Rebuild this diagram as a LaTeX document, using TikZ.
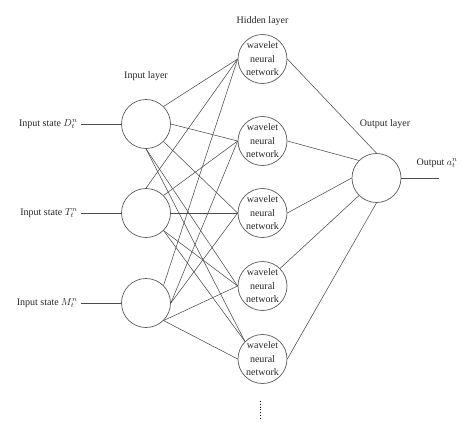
\documentclass[tikz,border=0pt]{standalone}
\usepackage{fontspec}
\setmainfont{Liberation Serif}
\usepackage{tikz}
\usetikzlibrary{positioning,calc}

\begin{document}
\begin{tikzpicture}[x=1pt,y=-1pt,
	every node/.style={text=black!85,font=\fontsize{10}{13.5}\selectfont},
	neuron/.style={circle,draw=black!65,line width=0.7pt,minimum size=49pt,inner sep=0pt},
	wire/.style={draw=black!70,line width=0.55pt}]
	\useasboundingbox (0,0) rectangle (474,434);
	
	% input layer
	\node[neuron] (in1) at (146,124) {};
	\node[neuron] (in2) at (146,213) {};
	\node[neuron] (in3) at (146,303) {};
	\node (inlay) at (146,76) {Input layer};
	
	% input states
	\node[anchor=east] (lab1) at (81,124) {Input state $D_t^n$};
	\node[anchor=east] (lab2) at (81,213) {Input state $T_t^n$};
	\node[anchor=east] (lab3) at (81,303) {Input state $M_t^n$};
	\foreach \i in {1,2,3}{
		\draw[wire] (lab\i.east) -- (in\i.west);
	}
	
	% hidden layer
	\foreach \i/\y in {1/59,2/141,3/213,4/286,5/359}{
		\node[neuron] (hid\i) at (262.5,\y) {};
		\node[align=center] (wnn\i) at (hid\i) {wavelet\\neural\\network};
	}
	\node (hidlay) at (262.5,21) {Hidden layer};
	
	% more hidden units
	\coordinate (dtop) at (260,401);
	\coordinate (dbot) at (260,418);
	\draw[dotted,line width=0.8pt] (dtop) -- (dbot);
	
	% output layer
	\node[neuron] (out) at (376.5,178) {};
	\node (outlay) at (385,124) {Output layer};
	\node[anchor=west] (outlab) at (413,163) {Output $a_t^n$};
	\coordinate (outend) at (439,178);
	\draw[wire] (out.east) -- (outend);
	
	% input to hidden
	\foreach \a/\b in {in1.north east/hid1.west, in1.east/hid2.west,
		in1.south east/hid3.west, in1.south/hid4.west, in1.south/hid5.north west,
		in2.north/hid1.west, in2.north east/hid2.west, in2.east/hid3.west,
		in2.south east/hid4.west, in2.south east/hid5.north west,
		in3.north east/hid1.west, in3.east/hid2.west, in3.east/hid3.west,
		in3.south east/hid4.west, in3.south east/hid5.west}{
		\draw[wire] (\a) -- (\b);
	}
	
	% hidden to output
	\draw[wire] (hid1.east) -- (out.north);
	\draw[wire] (hid2.east) -- (out.north west);
	\draw[wire] (hid3.east) -- (out.west);
	\draw[wire] (hid4.north east) -- (out.south west);
	\draw[wire] (hid5.east) -- (out.south);
\end{tikzpicture}
\end{document}
